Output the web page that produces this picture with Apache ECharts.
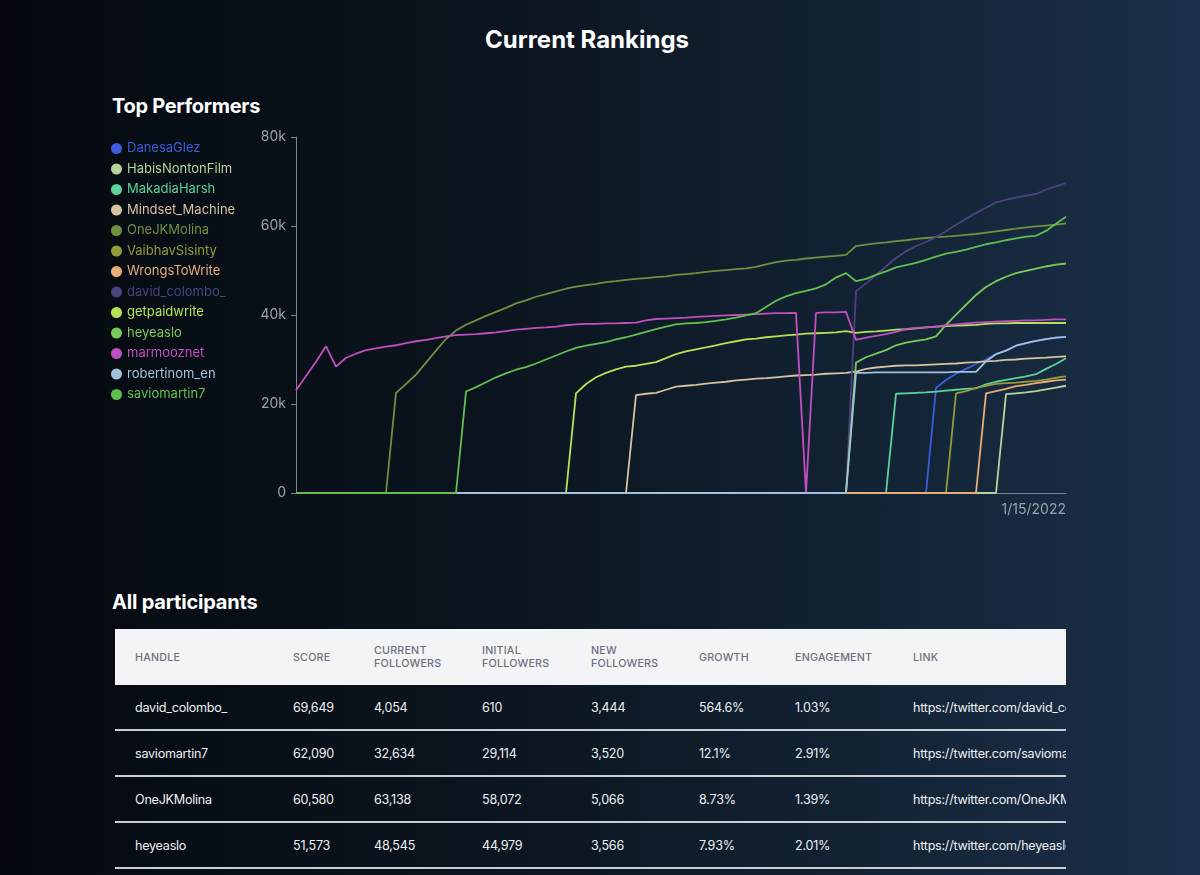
<!DOCTYPE html>
<html>
<head>
<meta charset="utf-8">
<script src="https://cdn.jsdelivr.net/npm/echarts@6/dist/echarts.min.js"></script>
<style>
html,body{margin:0;padding:0;}
body{width:1200px;height:875px;overflow:hidden;position:relative;font-family:Inter,'Noto Sans',sans-serif;
  background:linear-gradient(90deg,#05090f 0%,#0b141e 40%,#132436 75%,#1b3049 100%);color:#fff;}
.h{position:absolute;font-weight:700;color:#fff;white-space:nowrap;line-height:1;}
#chart{position:absolute;left:0;top:0;width:1200px;height:540px;}
#tbl{position:absolute;left:115px;top:629px;width:951px;overflow:hidden;}
.row{display:flex;white-space:nowrap;width:1200px;}
.head{background:#f3f4f6;height:56px;align-items:center;}
.head .c{font-size:10.7px;font-weight:500;letter-spacing:0.02em;color:#6b7280;line-height:13px;text-transform:uppercase;white-space:pre-line;}
.body{height:44px;border-bottom:2px solid #c9ced5;align-items:center;}
.body .c{font-size:12.6px;letter-spacing:-0.25px;color:#eef0f3;}
.c{flex:none;padding-left:20px;box-sizing:border-box;overflow:visible;}
</style>
</head>
<body>
<div class="h" style="left:485px;top:28px;font-size:24px;">Current Rankings</div>
<div class="h" style="left:112px;top:96px;font-size:20px;letter-spacing:-0.3px;">Top Performers</div>
<div id="chart"></div>
<div class="h" style="left:112px;top:592px;font-size:20px;letter-spacing:-0.2px;">All participants</div>
<div id="tbl"></div>
<script>
// ---------- DATA ----------
const categories = [
"1/2/2022 04:00","1/2/2022 08:00","1/2/2022 12:00","1/2/2022 16:00","1/2/2022 20:00",
"1/3/2022 00:00","1/3/2022 04:00","1/3/2022 08:00","1/3/2022 12:00","1/3/2022 16:00","1/3/2022 20:00",
"1/4/2022 00:00","1/4/2022 04:00","1/4/2022 08:00","1/4/2022 12:00","1/4/2022 16:00","1/4/2022 20:00",
"1/5/2022 00:00","1/5/2022 04:00","1/5/2022 08:00","1/5/2022 12:00","1/5/2022 16:00","1/5/2022 20:00",
"1/6/2022 00:00","1/6/2022 04:00","1/6/2022 08:00","1/6/2022 12:00","1/6/2022 16:00","1/6/2022 20:00",
"1/7/2022 00:00","1/7/2022 04:00","1/7/2022 08:00","1/7/2022 12:00","1/7/2022 16:00","1/7/2022 20:00",
"1/8/2022 00:00","1/8/2022 04:00","1/8/2022 08:00","1/8/2022 12:00","1/8/2022 16:00","1/8/2022 20:00",
"1/9/2022 00:00","1/9/2022 04:00","1/9/2022 08:00","1/9/2022 12:00","1/9/2022 16:00","1/9/2022 20:00",
"1/10/2022 00:00","1/10/2022 04:00","1/10/2022 08:00","1/10/2022 12:00","1/10/2022 16:00","1/10/2022 20:00",
"1/11/2022 00:00","1/11/2022 04:00","1/11/2022 08:00","1/11/2022 12:00","1/11/2022 16:00","1/11/2022 20:00",
"1/12/2022 00:00","1/12/2022 04:00","1/12/2022 08:00","1/12/2022 12:00","1/12/2022 16:00","1/12/2022 20:00",
"1/13/2022 00:00","1/13/2022 04:00","1/13/2022 08:00","1/13/2022 12:00","1/13/2022 16:00","1/13/2022 20:00",
"1/14/2022 00:00","1/14/2022 04:00","1/14/2022 08:00","1/14/2022 12:00","1/14/2022 16:00","1/14/2022 20:00",
"1/15/2022 00:00"
];

const seriesNames = ["DanesaGlez","HabisNontonFilm","MakadiaHarsh","Mindset_Machine","OneJKMolina","VaibhavSisinty","WrongsToWrite","david_colombo_","getpaidwrite","heyeaslo","marmooznet","robertinom_en","saviomartin7"];
const seriesColors = ["#3b5ddd","#b4d49c","#5dd39b","#d6c3a0","#6f9040","#949c3a","#e8ad78","#4a437e","#b5e25a","#7bc95a","#c04fbf","#a2c1da","#5fc04f"];

// score values in thousands
const DanesaGlez = [
0,0,0,0,0,0,0,0,0,0,
0,0,0,0,0,0,0,0,0,0,
0,0,0,0,0,0,0,0,0,0,
0,0,0,0,0,0,0,0,0,0,
0,0,0,0,0,0,0,0,0,0,
0,0,0,0,0,0,0,0,0,0,
0,0,0,0,23.6,25.4,26.8,27.9,29.0,30.0,
31.2,32.0,33.1,33.7,34.2,34.6,34.9,35.1];
const HabisNontonFilm = [
0,0,0,0,0,0,0,0,0,0,
0,0,0,0,0,0,0,0,0,0,
0,0,0,0,0,0,0,0,0,0,
0,0,0,0,0,0,0,0,0,0,
0,0,0,0,0,0,0,0,0,0,
0,0,0,0,0,0,0,0,0,0,
0,0,0,0,0,0,0,0,0,0,
0,22.2,22.4,22.6,22.9,23.3,23.7,24.1];
const MakadiaHarsh = [
0,0,0,0,0,0,0,0,0,0,
0,0,0,0,0,0,0,0,0,0,
0,0,0,0,0,0,0,0,0,0,
0,0,0,0,0,0,0,0,0,0,
0,0,0,0,0,0,0,0,0,0,
0,0,0,0,0,0,0,0,0,0,
22.3,22.4,22.5,22.6,22.8,23.0,23.2,23.4,23.5,24.4,
25.0,25.4,25.8,26.2,26.7,27.9,29.0,30.3];
const Mindset_Machine = [
0,0,0,0,0,0,0,0,0,0,
0,0,0,0,0,0,0,0,0,0,
0,0,0,0,0,0,0,0,0,0,
0,0,0,0,22.0,22.3,22.5,23.2,23.9,24.1,
24.3,24.6,24.8,25.0,25.3,25.5,25.7,25.8,26.0,26.2,
26.4,26.5,26.6,26.8,26.9,27.0,27.3,27.9,28.2,28.4,
28.6,28.7,28.7,28.8,28.9,29.0,29.1,29.3,29.4,29.6,
29.7,29.9,30.0,30.2,30.3,30.4,30.6,30.7];
const OneJKMolina = [
0,0,0,0,0,0,0,0,0,0,
22.5,24.5,26.6,29.3,32.0,34.6,36.5,37.8,38.8,39.8,
40.7,41.6,42.6,43.3,44.1,44.7,45.3,45.9,46.4,46.7,
47.0,47.4,47.6,47.9,48.1,48.3,48.5,48.7,49.0,49.2,
49.4,49.7,49.9,50.1,50.3,50.5,50.8,51.4,51.9,52.2,
52.4,52.7,52.9,53.1,53.3,53.5,55.5,55.8,56.1,56.3,
56.6,56.8,57.1,57.3,57.5,57.6,57.8,58.0,58.2,58.5,
58.8,59.1,59.4,59.7,59.9,60.1,60.3,60.58];
const VaibhavSisinty = [
0,0,0,0,0,0,0,0,0,0,
0,0,0,0,0,0,0,0,0,0,
0,0,0,0,0,0,0,0,0,0,
0,0,0,0,0,0,0,0,0,0,
0,0,0,0,0,0,0,0,0,0,
0,0,0,0,0,0,0,0,0,0,
0,0,0,0,0,0,22.4,22.9,23.6,24.1,
24.5,24.7,24.8,25.0,25.2,25.5,25.9,26.2];
const WrongsToWrite = [
0,0,0,0,0,0,0,0,0,0,
0,0,0,0,0,0,0,0,0,0,
0,0,0,0,0,0,0,0,0,0,
0,0,0,0,0,0,0,0,0,0,
0,0,0,0,0,0,0,0,0,0,
0,0,0,0,0,0,0,0,0,0,
0,0,0,0,0,0,0,0,0,22.4,
22.9,23.4,24.0,24.3,24.7,25.0,25.3,25.5];
const david_colombo_ = [
0,0,0,0,0,0,0,0,0,0,
0,0,0,0,0,0,0,0,0,0,
0,0,0,0,0,0,0,0,0,0,
0,0,0,0,0,0,0,0,0,0,
0,0,0,0,0,0,0,0,0,0,
0,0,0,0,0,0,45.3,47.1,49.0,50.9,
52.8,54.3,55.5,56.4,57.5,58.8,60.3,61.6,62.9,64.1,
65.3,65.9,66.4,66.8,67.2,68.2,68.9,69.649];
const getpaidwrite = [
0,0,0,0,0,0,0,0,0,0,
0,0,0,0,0,0,0,0,0,0,
0,0,0,0,0,0,0,0,22.4,24.5,
26.0,27.0,27.8,28.4,28.6,29.0,29.4,30.3,31.2,31.8,
32.3,32.7,33.2,33.7,34.1,34.5,34.7,35.0,35.2,35.4,
35.6,35.8,35.9,36.0,36.1,36.4,36.0,36.2,36.3,36.5,
36.7,36.8,37.0,37.2,37.4,37.5,37.6,37.7,37.8,38.0,
38.1,38.1,38.2,38.2,38.2,38.2,38.2,38.2];
const heyeaslo = [
0,0,0,0,0,0,0,0,0,0,
0,0,0,0,0,0,0,0,0,0,
0,0,0,0,0,0,0,0,0,0,
0,0,0,0,0,0,0,0,0,0,
0,0,0,0,0,0,0,0,0,0,
0,0,0,0,0,0,29.3,30.5,31.3,32.1,
33.2,33.8,34.2,34.5,35.2,37.8,40.1,42.3,44.5,46.3,
47.6,48.6,49.4,49.9,50.4,50.9,51.3,51.573];
const marmooznet = [
23.1,26.3,29.5,33.0,28.4,30.4,31.3,32.1,32.5,32.9,
33.2,33.7,34.1,34.4,34.8,35.2,35.5,35.6,35.7,35.9,
36.1,36.4,36.7,36.9,37.1,37.2,37.4,37.7,37.9,38.0,
38.0,38.1,38.1,38.2,38.3,38.8,39.1,39.2,39.3,39.4,
39.6,39.7,39.8,39.9,40.0,40.1,40.2,40.3,40.4,40.4,
40.5,0,40.5,40.6,40.6,40.7,34.4,34.9,35.3,35.7,
36.2,36.9,37.1,37.2,37.4,37.7,37.9,38.1,38.3,38.4,
38.5,38.6,38.7,38.8,38.8,38.9,39.0,39.0];
const robertinom_en = [
0,0,0,0,0,0,0,0,0,0,
0,0,0,0,0,0,0,0,0,0,
0,0,0,0,0,0,0,0,0,0,
0,0,0,0,0,0,0,0,0,0,
0,0,0,0,0,0,0,0,0,0,
0,0,0,0,0,0,27.0,27.0,27.1,27.1,
27.1,27.1,27.1,27.1,27.1,27.1,27.2,27.2,27.2,29.6,
31.2,32.0,33.1,33.7,34.2,34.6,34.9,35.1];
const saviomartin7 = [
0,0,0,0,0,0,0,0,0,0,
0,0,0,0,0,0,0,22.8,23.8,24.9,
26.0,26.9,27.7,28.3,29.1,30.0,30.9,31.8,32.6,33.1,
33.5,33.9,34.5,35.0,35.6,36.2,36.8,37.4,37.9,38.1,
38.2,38.4,38.7,39.0,39.4,39.9,40.4,41.8,43.2,44.2,
44.9,45.4,46.0,46.9,48.4,49.4,47.6,48.1,49.0,49.8,
50.7,51.2,51.7,52.4,53.1,53.8,54.2,54.7,55.3,55.9,
56.3,56.8,57.2,57.6,57.8,58.9,60.5,62.09];

const seriesValues = [DanesaGlez,HabisNontonFilm,MakadiaHarsh,Mindset_Machine,OneJKMolina,VaibhavSisinty,WrongsToWrite,david_colombo_,getpaidwrite,heyeaslo,marmooznet,robertinom_en,saviomartin7];

const yTicks = {min:0, max:80, interval:20};

const tableHeaders = ["Handle","Score","Current\nFollowers","Initial\nFollowers","New\nFollowers","Growth","Engagement","Link"];
const tableRows = [
["david_colombo_","69,649","4,054","610","3,444","564.6%","1.03%","https://twitter.com/david_colombo_"],
["saviomartin7","62,090","32,634","29,114","3,520","12.1%","2.91%","https://twitter.com/saviomartin7"],
["OneJKMolina","60,580","63,138","58,072","5,066","8.73%","1.39%","https://twitter.com/OneJKMolina"],
["heyeaslo","51,573","48,545","44,979","3,566","7.93%","2.01%","https://twitter.com/heyeaslo"]
];
const colWidths = [158,81,108,109,108,96,118,320];

// ---------- checks ----------
seriesValues.forEach((a,k)=>{ if(a.length!==categories.length) throw new Error(seriesNames[k]+' length '+a.length+' vs '+categories.length); });

// ---------- chart ----------
const chart = echarts.init(document.getElementById('chart'), null, {renderer:'canvas'});
const lastIdx = categories.length - 1;
chart.setOption({
  backgroundColor: 'transparent',
  animation: false,
  legend: {
    orient: 'vertical', left: 111, top: 142, padding: 0, icon: 'circle',
    itemWidth: 11, itemHeight: 11, itemGap: 7.5, selectedMode: false,
    textStyle: {fontSize: 13, fontFamily: 'Inter'},
    data: seriesNames.map((n,k)=>({name:n, textStyle:{color:seriesColors[k]}}))
  },
  grid: {left: 296, right: 134, top: 137, bottom: 47, containLabel: false, outerBoundsMode: 'none'},
  xAxis: {
    type: 'category', data: categories, boundaryGap: false,
    axisLine: {lineStyle: {color: '#7c8591', width: 1}},
    axisTick: {show: false},
    splitLine: {show: false},
    axisLabel: {
      interval: (idx) => idx === lastIdx,
      formatter: v => v.split(' ')[0],
      align: 'right', color: '#9aa3ae', fontSize: 14, margin: 10, fontFamily: 'Inter'
    }
  },
  yAxis: {
    type: 'value', min: yTicks.min, max: yTicks.max, interval: yTicks.interval,
    axisLine: {show: true, lineStyle: {color: '#7c8591', width: 1}},
    axisTick: {show: true, length: 5, lineStyle: {color: '#7c8591'}},
    splitLine: {show: false},
    axisLabel: {formatter: v => v === 0 ? '0' : v + 'k', color: '#9aa3ae', fontSize: 14, margin: 10, fontFamily: 'Inter'}
  },
  series: seriesNames.map((n,k)=>({
    name: n, type: 'line', data: seriesValues[k], showSymbol: false, symbol: 'none',
    color: seriesColors[k], lineStyle: {width: 1.8, color: seriesColors[k]}, smooth: false
  }))
});

// ---------- table ----------
const tbl = document.getElementById('tbl');
function makeRow(cells, cls){
  const r = document.createElement('div');
  r.className = 'row ' + cls;
  cells.forEach((t,i)=>{
    const c = document.createElement('div');
    c.className = 'c';
    c.style.width = colWidths[i] + 'px';
    c.textContent = t;
    r.appendChild(c);
  });
  tbl.appendChild(r);
}
makeRow(tableHeaders, 'head');
tableRows.forEach(r=>makeRow(r, 'body'));
</script>
</body>
</html>
